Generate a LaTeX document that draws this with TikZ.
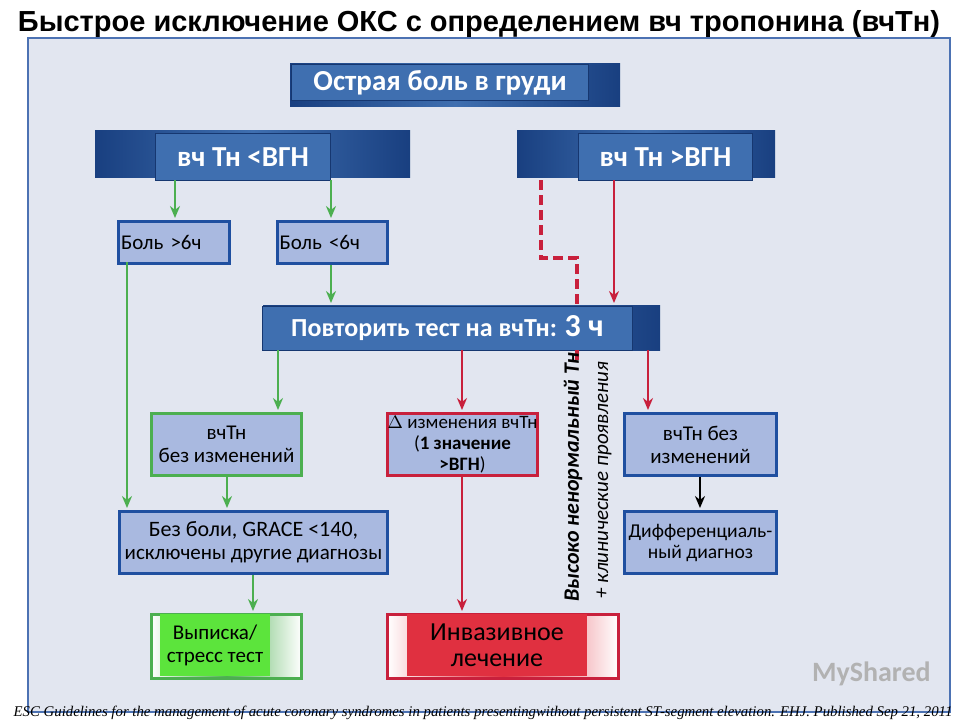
\documentclass[tikz,border=0pt]{standalone}
\usepackage{fontspec}
\setmainfont{Carlito}
\newfontfamily\titlefont{Liberation Sans}
\newfontfamily\footfont{Liberation Serif}
\usetikzlibrary{arrows.meta}
\definecolor{panel}{HTML}{E2E6F0}
\definecolor{dkblue}{HTML}{1F4FA0}
\definecolor{mdblue}{HTML}{3F6FB0}
\definecolor{ltblue}{HTML}{A9B9E0}
\definecolor{grn}{HTML}{4CAF50}
\definecolor{rd}{HTML}{C8203C}
\definecolor{brgreen}{HTML}{5CE43C}
\definecolor{brred}{HTML}{E03040}
\tikzset{
  back/.style={left color=dkblue!80!black,right color=dkblue!80!black,middle color=mdblue,draw=none},
  front/.style={fill=mdblue,draw=dkblue!70!black,line width=0.5pt,text=white,font=\bfseries\fontsize{14.5}{16}\selectfont,inner sep=0pt},
  box/.style={draw=#1,line width=1.5pt,fill=ltblue,inner sep=0pt,align=center,font=\fontsize{10.5}{11.5}\selectfont},
  ga/.style={draw=grn,line width=1.4pt,-{Stealth[length=6pt,width=5pt]}},
  ra/.style={draw=rd,line width=1.4pt,-{Stealth[length=6pt,width=5pt]}},
}
\begin{document}
\begin{tikzpicture}[x=0.5pt,y=-0.5pt]
\useasboundingbox (0,0) rectangle (960,720);
\fill[white] (0,0) rectangle (960,720);
\node[font=\titlefont\bfseries\fontsize{14.5}{16}\selectfont,anchor=center] (title) at (479,24) {Быстрое исключение ОКС с определением вч тропонина (вчТн)};
\draw[fill=panel,draw=dkblue!80,line width=0.6pt] (28,38) rectangle (950,712);
% top
\fill[back] (290,63) rectangle (620,106);
\node[front,minimum width=148.5pt,minimum height=18pt,anchor=north west] (top) at (291,64) {Острая боль в груди};
% bars
\fill[back] (95,130) rectangle (410,177);
\node[front,minimum width=87.5pt,minimum height=23.5pt,anchor=north west] (lt) at (155,133) {вч Тн <ВГН};
\fill[back] (517,130) rectangle (775,177);
\node[front,minimum width=87pt,minimum height=23.5pt,anchor=north west] (gt) at (578,133) {вч Тн >ВГН};
% pain boxes
\node[box=dkblue,minimum width=55.5pt,minimum height=21pt,anchor=north west,text width=53pt,align=left] (p6a) at (117,220) {\fontsize{10.5}{11}\selectfont Боль >6ч};
\node[box=dkblue,minimum width=55pt,minimum height=21pt,anchor=north west,text width=53pt,align=left] (p6b) at (276,220) {\fontsize{10.5}{11}\selectfont Боль <6ч};
% repeat bar
\fill[back] (263,305) rectangle (660,350);
\node[front,minimum width=185pt,minimum height=22pt,anchor=north west] (rep) at (262,306) {\fontsize{13}{15}\selectfont Повторить тест на вчТн: \fontsize{16}{18}\selectfont 3 ч};
% middle row
\node[box=grn,minimum width=75pt,minimum height=31pt,anchor=north west] (unch) at (150,412) {вчТн\\без изменений};
\node[box=rd,minimum width=75pt,minimum height=31pt,anchor=north west,font=\fontsize{9.5}{10.5}\selectfont] (delta) at (386,412) {$\Delta$ изменения вчТн\\(\textbf{1 значение}\\\textbf{>ВГН})};
\node[box=dkblue,minimum width=76pt,minimum height=31pt,anchor=north west] (unch2) at (623,412) {вчТн без\\изменений};
% lower row
\node[box=dkblue,minimum width=134pt,minimum height=31pt,anchor=north west] (nopain) at (118,510) {\fontsize{11}{12}\selectfont Без боли, GRACE <140,\\исключены другие диагнозы};
\node[box=dkblue,minimum width=76pt,minimum height=31pt,anchor=north west,font=\fontsize{9.8}{10.5}\selectfont] (diff) at (623,510) {Дифференциаль-\\ный диагноз};
% bottom
\node[draw=grn,line width=1.5pt,minimum width=75pt,minimum height=32pt,anchor=north west,inner sep=0pt,
  left color=white,right color=white,middle color=grn] (disc) at (150,613) {};
\node[fill=brgreen,minimum width=55pt,minimum height=31pt,inner sep=0pt,align=center,font=\fontsize{10.5}{11.5}\selectfont] (disct) at (215,645) {Выписка/\\стресс тест};
\node[draw=rd,line width=1.5pt,minimum width=115.5pt,minimum height=32pt,anchor=north west,inner sep=0pt,
  left color=white,right color=white,middle color=brred] (inv) at (386,613) {};
\node[fill=brred,minimum width=90pt,minimum height=31pt,inner sep=0pt,align=center,font=\fontsize{13}{13}\selectfont] (invt) at (497,645) {Инвазивное\\лечение};
% green arrows
\coordinate (a1) at (175,180); \coordinate (a2) at (331,180);
\draw[ga] (a1) -- (175,218);
\draw[ga] (a2) -- (331,218);
\draw[ga] (p6b.south -| 331,0) -- (331,303);
\coordinate (b1) at (127,262);
\draw[ga] (b1) -- (127,508);
\coordinate (b2) at (278,350);
\draw[ga] (b2) -- (278,410);
\draw[ga] (unch.south -| 227,0) -- (227,508);
\draw[ga] (nopain.south -| 253,0) -- (253,611);
% red arrows
\coordinate (r1) at (462,350);
\draw[ra] (r1) -- (462,410);
\coordinate (r2) at (648,350);
\draw[ra] (r2) -- (648,410);
\coordinate (r3) at (614,180);
\draw[ra] (r3) -- (614,303);
\draw[ra] (delta.south -| 462,0) -- (462,611);
\coordinate (d1) at (541,180);
\coordinate (d2) at (577,360);
\draw[rd,line width=2.2pt,dash pattern=on 5pt off 2.5pt] (d1) -- (541,258) -- (577,258) -- (577,305);
\draw[rd,line width=2.2pt,dash pattern=on 5pt off 2.5pt] (577,350) -- (d2);
% black arrow
\draw[line width=1.4pt,-{Stealth[length=6pt,width=5pt]}] (unch2.south -| 700,0) -- (700,508);
% rotated text
\node[rotate=90,anchor=west,font=\bfseries\itshape\fontsize{11}{12}\selectfont] (hi) at (573,609) {Высоко ненормальный Тн};
\node[rotate=90,anchor=west,font=\itshape\fontsize{10.5}{11}\selectfont] (cl) at (604,606) {+ клинические проявления};
% watermark
\node[text=gray!60,font=\bfseries\fontsize{14}{16}\selectfont,anchor=west] (ms) at (805,674) {MyShared};
% footer
\node[font=\footfont\itshape\fontsize{7.4}{8}\selectfont,anchor=center] (foot) at (483,713) {ESC Guidelines for the management of acute coronary syndromes in patients presentingwithout persistent ST-segment elevation. EHJ. Published Sep 21, 2011};
\end{tikzpicture}
\end{document}
